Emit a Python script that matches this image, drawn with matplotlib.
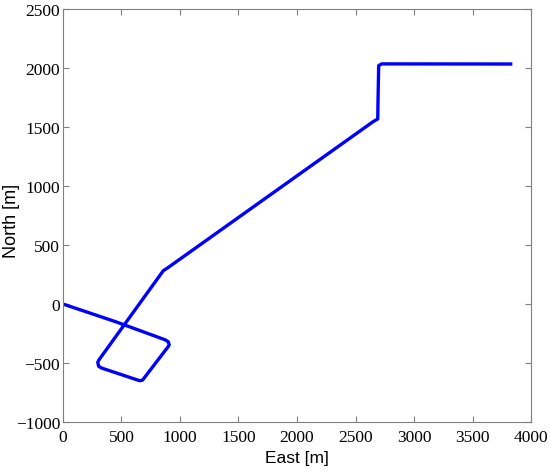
import matplotlib
matplotlib.use("Agg")
import matplotlib.pyplot as plt

# trajectory
east = [0, 450, 872, 900, 908, 900, 680, 658, 640, 331, 305, 297,
        310, 857, 900, 2650, 2690, 2692, 2698, 2724, 3826]
north = [0, -150, -303, -320, -345, -360, -645, -650, -645, -543, -528, -494,
         -470, 282, 310, 1545, 1568, 1700, 2020, 2035, 2034]

xTicks = [0, 500, 1000, 1500, 2000, 2500, 3000, 3500, 4000]
yTicks = [-1000, -500, 0, 500, 1000, 1500, 2000, 2500]

fig = plt.figure(figsize=(5.5, 4.77), dpi=100)
ax = fig.add_axes([0.1145, 0.1132, 0.851, 0.8658])

ax.plot(east, north, color='#0000ff', linewidth=2.4, solid_joinstyle='round')

ax.set_xlim(0, 4000)
ax.set_ylim(-1000, 2500)
ax.set_xticks(xTicks)
ax.set_yticks(yTicks)
ax.tick_params(direction='in', top=True, right=True, length=4, width=0.8,
               color='#808080', labelsize=12.5, pad=2)
ax.tick_params(axis='x', pad=5)
for lab in ax.get_xticklabels() + ax.get_yticklabels():
    lab.set_fontfamily('Liberation Serif')
for s in ax.spines.values():
    s.set_color('#808080')
    s.set_linewidth(0.8)

ax.set_xlabel('East [m]', fontsize=12.5, family='Liberation Sans')
ax.set_ylabel('North [m]', fontsize=13, family='Liberation Sans')
ax.xaxis.set_label_coords(0.5, -0.068)
ax.yaxis.set_label_coords(-0.092, 0.49)

fig.savefig('out.png', dpi=100)
